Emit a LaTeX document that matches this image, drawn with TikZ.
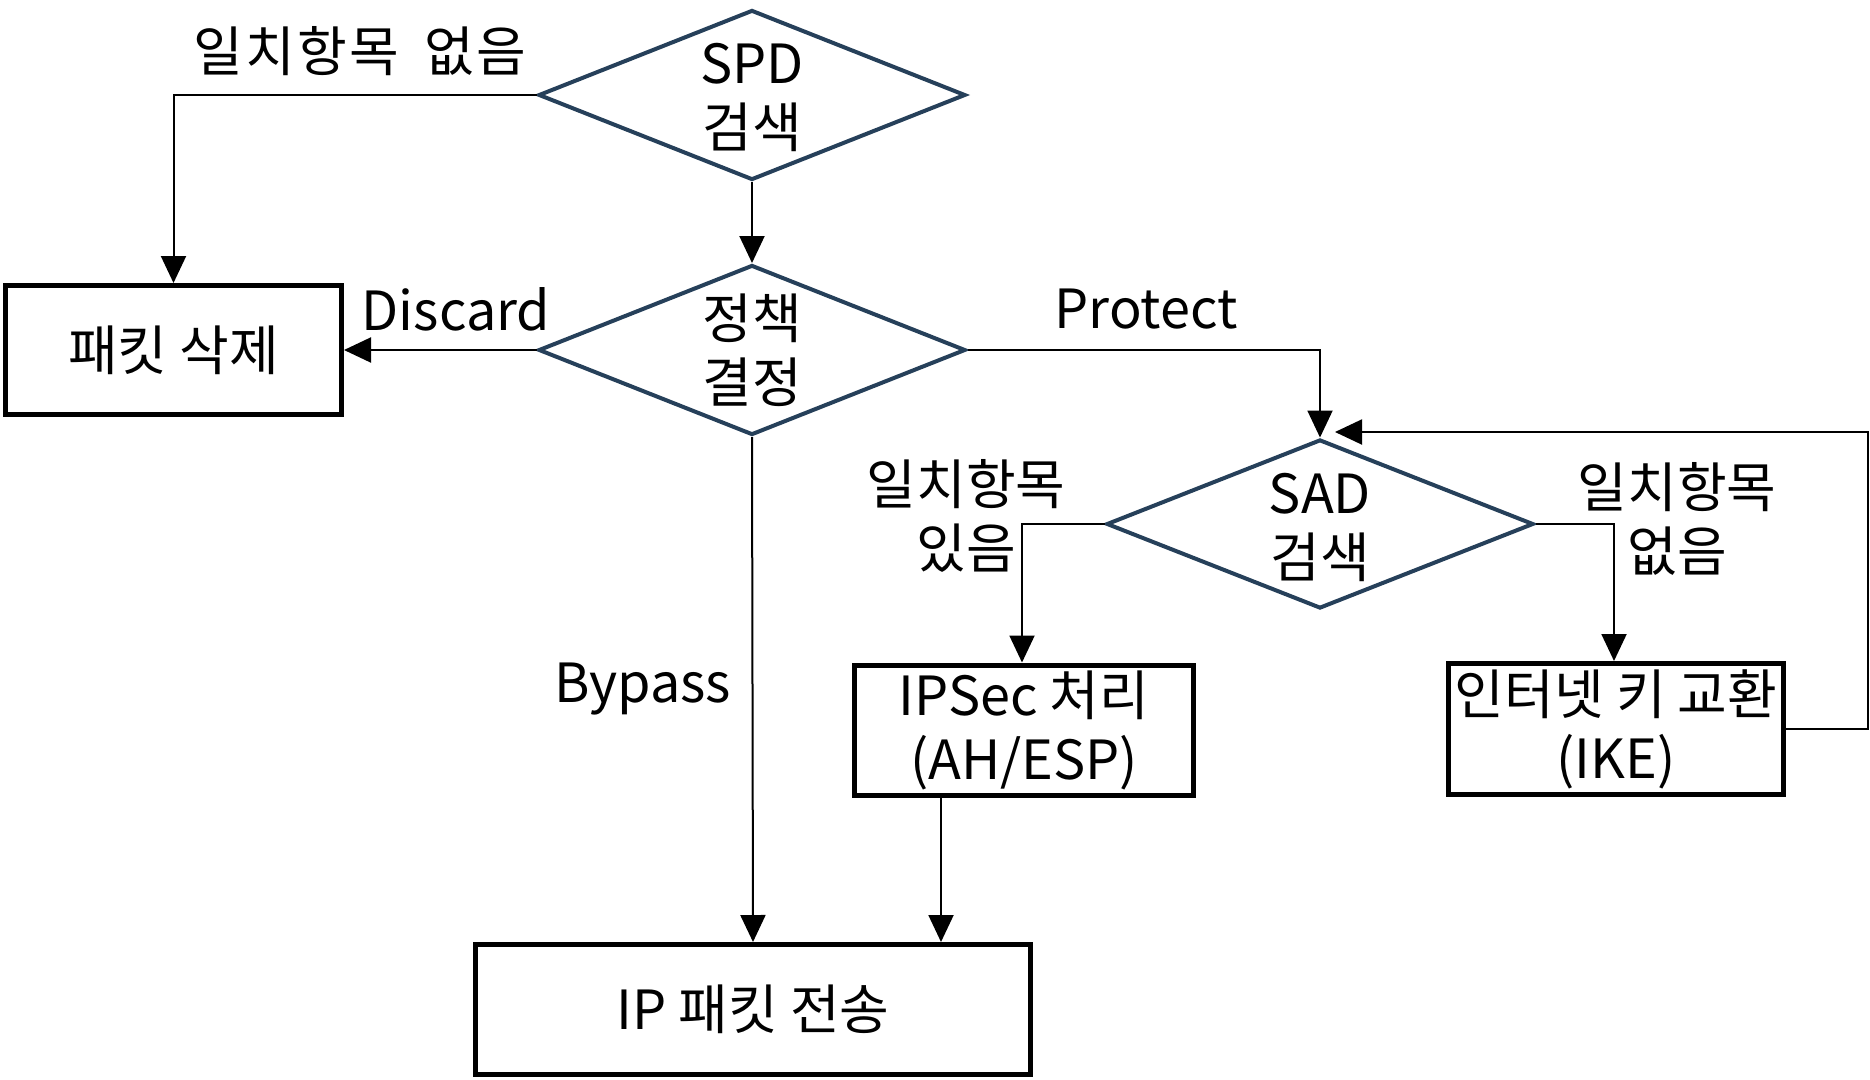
\documentclass[tikz,border=0pt]{standalone}
\usepackage{fontspec}
\setmainfont{Noto Sans CJK KR}
\usetikzlibrary{shapes.geometric,arrows.meta,calc}
\definecolor{dmd}{RGB}{38,64,90}
\begin{document}
\begin{tikzpicture}[x=1pt,y=-1pt,
  font=\fontsize{54pt}{64pt}\selectfont,
  dec/.style={diamond,draw=dmd,line width=4pt,inner sep=0pt,minimum width=427pt,minimum height=170pt},
  box/.style={rectangle,draw=black,line width=5pt,inner sep=0pt,align=center},
  conn/.style={draw=black,line width=2pt,-{Triangle[length=27pt,width=25pt]}},
  lbl/.style={align=center,inner sep=0pt}]
\useasboundingbox (0,0) rectangle (1870,1079);
% decisions
\node[dec] (spd) at (752,95) {};
\node[lbl] (spdt) at (752,97) {SPD\\검색};
\node[dec] (pol) at (752,350) {};
\node[lbl] (polt) at (752,350) {정책\\결정};
\node[dec,minimum height=169pt] (sad) at (1320,524) {};
\node[lbl] (sadt) at (1320,527) {SAD\\검색};
% boxes
\node[box,minimum width=336pt,minimum height=129pt] (del) at (173.5,350) {패킷 삭제};
\node[box,minimum width=339pt,minimum height=130pt] (ipsec) at (1024,730) {IPSec 처리\\(AH/ESP)};
\node[box,minimum width=335pt,minimum height=131pt] (ike) at (1616,729) {인터넷 키 교환\\(IKE)};
\node[box,minimum width=555pt,minimum height=130pt] (ip) at (753,1009.5) {IP 패킷 전송};
% labels
\node[lbl,anchor=base] (l1) at (360,71) {\addfontfeature{LetterSpace=4}일치항목\hspace{12pt} 없음};
\node[lbl,anchor=base] (l2) at (456,330) {Discard};
\node[lbl,anchor=base] (l3) at (1146,328) {Protect};
\node[lbl,anchor=base] (l4) at (643,702) {Bypass};
\node[lbl] (l5) at (966,516) {일치항목\\있음};
\node[lbl] (l6) at (1677,519) {일치항목\\없음};
% connectors
\coordinate (fb) at (1335,432);
\coordinate (fbr) at (1868,432);
\draw[conn] (spd.west) -| (del.north);
\draw[conn] (spd.south) -- (pol.north);
\draw[conn] (pol.west) -- (del.east);
\draw[conn] (pol.east) -| (sad.north);
\draw[conn] (pol.south) -- (ip.north);
\draw[conn] (sad.west) -| ([xshift=-2pt]ipsec.north);
\draw[conn] (sad.east) -| ([xshift=-2pt]ike.north);
\draw[conn] ([xshift=-83pt]ipsec.south) -- ([xshift=-83pt]ipsec.south |- ip.north);
\draw[conn] (ike.east) -| (fbr) -- (fb);
\end{tikzpicture}
\end{document}
